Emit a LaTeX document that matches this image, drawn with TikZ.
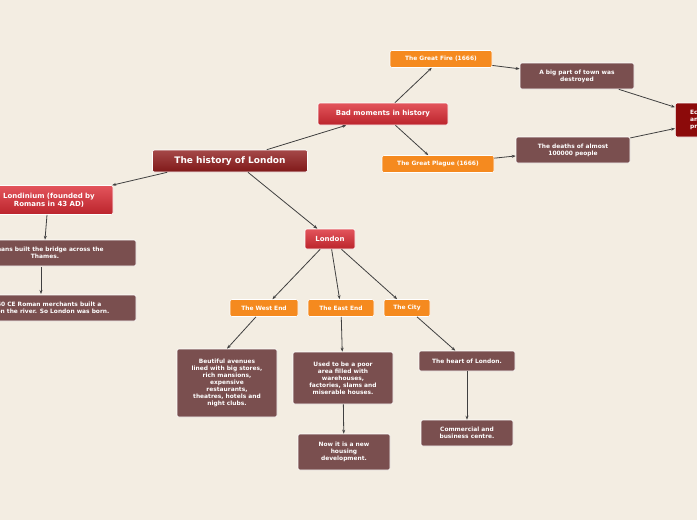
\documentclass[tikz,border=0pt]{standalone}
\usepackage{fontspec}
\setmainfont{DejaVu Sans}
\usetikzlibrary{arrows.meta}
\definecolor{bg}{HTML}{F3EDE2}
\definecolor{brn}{HTML}{7A4F4F}
\definecolor{rd}{HTML}{DC2A33}
\definecolor{org}{HTML}{F58A1F}
\definecolor{drd}{HTML}{8C0A0A}
\definecolor{mrd}{HTML}{8E1B1B}
\definecolor{ln}{HTML}{404040}
\tikzset{
 base/.style={rounded corners=2pt,text=white,font=\bfseries\fontsize{5.9}{6.9}\selectfont,align=center,inner sep=2pt,draw=white,line width=0.6pt},
 bn/.style={base,fill=brn},
 rn/.style={base,top color=rd!80!white,bottom color=rd!85!black,font=\bfseries\fontsize{7}{8}\selectfont},
 on/.style={base,fill=org},
 con/.style={draw=ln,line width=0.8pt,-{Stealth[length=4pt]}}
}
\begin{document}
\begin{tikzpicture}[x=1pt,y=-1pt]
\fill[bg] (0,0) rectangle (697,520);
\clip (0,0) rectangle (697,520);
\node[base,minimum width=155,minimum height=22,top color=mrd!80!white,bottom color=mrd!90!black,font=\bfseries\fontsize{9}{10}\selectfont] (main) at (230,161) {The history of London};
\node[rn,minimum width=130,minimum height=22] (bad) at (383,114) {Bad moments in history};
\node[on,minimum width=102,minimum height=17] (fire) at (441,59) {The Great Fire (1666)};
\node[on,minimum width=112,minimum height=17] (plague) at (438,164) {The Great Plague (1666)};
\node[bn,minimum width=114,minimum height=26] (part) at (577,76) {A big part of town was\\destroyed};
\node[bn,minimum width=114,minimum height=26] (death) at (573,150) {The deaths of almost\\100000 people};
\node[base,fill=drd,minimum width=80,minimum height=34,anchor=west,align=left,inner xsep=6pt] (eco) at (675,120) {Economic\\and population\\problems};
\node[rn,minimum width=128,minimum height=29] (lond) at (49,200) {Londinium (founded by\\Romans in 43 AD)};
\node[bn,minimum width=182,minimum height=26] (bridge) at (45,253) {Romans built the bridge across the\\Thames.};
\node[bn,minimum width=182,minimum height=26] (merch) at (45,308) {In 50 CE Roman merchants built a\\port on the river. So London was born.};
\node[rn,minimum width=50,minimum height=20] (london) at (330,239) {London};
\node[on,minimum width=68,minimum height=17] (west) at (264,308) {The West End};
\node[on,minimum width=66,minimum height=17] (east) at (341,308) {The East End};
\node[on,minimum width=46,minimum height=17] (city) at (407,308) {The City};
\node[bn,minimum width=100,minimum height=68] (beut) at (227,383) {Beutiful avenues\\lined with big stores,\\rich mansions,\\expensive\\restaurants,\\theatres, hotels and\\night clubs.};
\node[bn,minimum width=100,minimum height=52] (poor) at (343,378) {Used to be a poor\\area filled with\\warehouses,\\factories, slams and\\miserable houses.};
\node[bn,minimum width=92,minimum height=36] (now) at (344,452) {Now it is a new\\housing\\development.};
\node[bn,minimum width=96,minimum height=20] (heart) at (467,361) {The heart of London.};
\node[bn,minimum width=92,minimum height=26] (comm) at (467,433) {Commercial and\\business centre.};
\draw[con] (main) -- (bad);
\draw[con] (main.south west)++(15,0) -- (lond);
\draw[con] (main.south) ++(18,0) -- (london);
\draw[con] (bad) -- (fire);
\draw[con] (bad) -- (plague);
\draw[con] (fire) -- (part);
\draw[con] (plague) -- (death);
\draw[con] (part) -- (eco);
\draw[con] (death) -- (eco);
\draw[con] (lond.south) ++(-2,0) -- (bridge.north -| 45,0);
\draw[con] (41,267) -- (41,294);
\draw[con] (london) -- (west);
\draw[con] (london) -- (east);
\draw[con] (london) -- (city);
\draw[con] (west) -- (beut.north);
\draw[con] (east) -- (poor);
\draw[con] (poor) -- (now);
\draw[con] (city) -- (heart);
\draw[con] (heart) -- (comm);
\end{tikzpicture}
\end{document}
